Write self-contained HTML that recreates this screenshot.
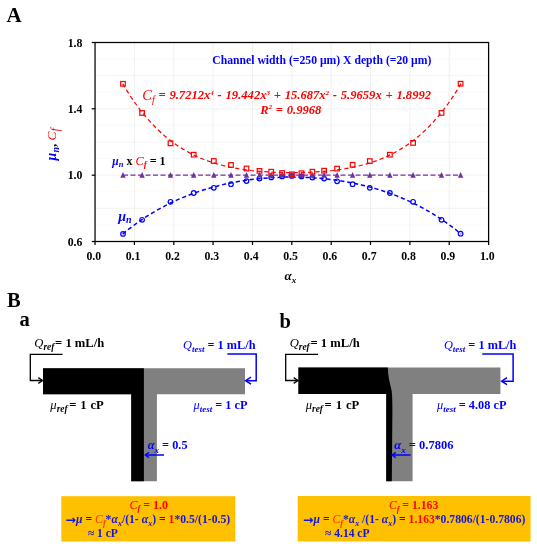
<!DOCTYPE html>
<html><head><meta charset="utf-8"><title>Figure</title>
<style>
html,body{margin:0;padding:0;background:#fff;}
svg{display:block;}
text{font-family:"Liberation Serif","Times New Roman",serif;}
.b{font-weight:bold;}
.i{font-style:italic;}
.bi{font-weight:bold;font-style:italic;}
</style></head><body>
<svg width="537" height="550" viewBox="0 0 537 550">
<rect width="537" height="550" fill="#fff"/>
<g stroke="#f7f7f7" stroke-width="0.8">
<line x1="95.05" x2="488.6" y1="224.9" y2="224.9"/>
<line x1="95.05" x2="488.6" y1="191.8" y2="191.8"/>
<line x1="95.05" x2="488.6" y1="158.6" y2="158.6"/>
<line x1="95.05" x2="488.6" y1="125.4" y2="125.4"/>
<line x1="95.05" x2="488.6" y1="92.2" y2="92.2"/>
<line x1="95.05" x2="488.6" y1="59.1" y2="59.1"/>
</g><g stroke="#ececec" stroke-width="0.8">
<line x1="95.05" x2="488.6" y1="208.3" y2="208.3" stroke="#f0f0f0"/>
<line x1="95.05" x2="488.6" y1="175.2" y2="175.2" stroke="#f0f0f0"/>
<line x1="95.05" x2="488.6" y1="142.0" y2="142.0" stroke="#f0f0f0"/>
<line x1="95.05" x2="488.6" y1="108.8" y2="108.8" stroke="#f0f0f0"/>
<line x1="95.05" x2="488.6" y1="75.7" y2="75.7" stroke="#f0f0f0"/>
<line y1="42.5" y2="241.5" x1="134.4" x2="134.4"/>
<line y1="42.5" y2="241.5" x1="173.8" x2="173.8"/>
<line y1="42.5" y2="241.5" x1="213.1" x2="213.1"/>
<line y1="42.5" y2="241.5" x1="252.5" x2="252.5"/>
<line y1="42.5" y2="241.5" x1="291.8" x2="291.8"/>
<line y1="42.5" y2="241.5" x1="331.2" x2="331.2"/>
<line y1="42.5" y2="241.5" x1="370.5" x2="370.5"/>
<line y1="42.5" y2="241.5" x1="409.9" x2="409.9"/>
<line y1="42.5" y2="241.5" x1="449.2" x2="449.2"/>
</g>
<path d="M122.6,234.1 L126.9,230.6 L131.2,227.3 L135.5,224.1 L139.7,221.1 L144.0,218.2 L148.3,215.4 L152.6,212.8 L156.9,210.3 L161.2,207.9 L165.4,205.6 L169.7,203.4 L174.0,201.4 L178.3,199.4 L182.6,197.6 L186.9,195.9 L191.1,194.2 L195.4,192.7 L199.7,191.2 L204.0,189.8 L208.3,188.5 L212.6,187.3 L216.9,186.2 L221.1,185.1 L225.4,184.1 L229.7,183.2 L234.0,182.3 L238.3,181.6 L242.6,180.9 L246.8,180.2 L251.1,179.6 L255.4,179.1 L259.7,178.7 L264.0,178.3 L268.3,177.9 L272.5,177.6 L276.8,177.4 L281.1,177.3 L285.4,177.1 L289.7,177.1 L294.0,177.1 L298.3,177.2 L302.5,177.3 L306.8,177.4 L311.1,177.7 L315.4,178.0 L319.7,178.3 L324.0,178.7 L328.2,179.2 L332.5,179.7 L336.8,180.3 L341.1,180.9 L345.4,181.6 L349.7,182.4 L353.9,183.3 L358.2,184.2 L362.5,185.2 L366.8,186.2 L371.1,187.4 L375.4,188.6 L379.7,189.9 L383.9,191.3 L388.2,192.7 L392.5,194.3 L396.8,195.9 L401.1,197.7 L405.4,199.5 L409.6,201.4 L413.9,203.5 L418.2,205.6 L422.5,207.9 L426.8,210.3 L431.1,212.8 L435.3,215.4 L439.6,218.2 L443.9,221.0 L448.2,224.1 L452.5,227.2 L456.8,230.5 L461.1,234.0" fill="none" stroke="#0000ff" stroke-width="1.5" stroke-dasharray="4.2 2.8"/>
<g fill="none" stroke="#0000ff" stroke-width="1.2">
<circle cx="123.0" cy="233.9" r="2.3"/>
<circle cx="142.1" cy="219.8" r="2.3"/>
<circle cx="170.5" cy="201.8" r="2.3"/>
<circle cx="193.7" cy="193.0" r="2.3"/>
<circle cx="213.8" cy="187.8" r="2.3"/>
<circle cx="231.0" cy="184.2" r="2.3"/>
<circle cx="246.5" cy="181.1" r="2.3"/>
<circle cx="259.5" cy="178.5" r="2.3"/>
<circle cx="271.2" cy="177.4" r="2.3"/>
<circle cx="282.1" cy="176.4" r="2.3"/>
<circle cx="291.8" cy="175.9" r="2.3"/>
<circle cx="301.5" cy="176.4" r="2.3"/>
<circle cx="312.4" cy="177.6" r="2.3"/>
<circle cx="324.1" cy="178.6" r="2.3"/>
<circle cx="337.1" cy="181.3" r="2.3"/>
<circle cx="352.6" cy="184.2" r="2.3"/>
<circle cx="369.8" cy="187.8" r="2.3"/>
<circle cx="389.9" cy="193.0" r="2.3"/>
<circle cx="413.1" cy="201.8" r="2.3"/>
<circle cx="441.5" cy="219.8" r="2.3"/>
<circle cx="460.6" cy="233.7" r="2.3"/>
</g>
<line x1="123.0" x2="460.6" y1="175.2" y2="175.2" stroke="#7030a0" stroke-width="1.3" stroke-dasharray="5 2.5"/>
<g fill="#7030a0">
<path d="M120.3,177.8 L125.7,177.8 L123.0,172.0Z"/>
<path d="M139.4,177.8 L144.8,177.8 L142.1,172.0Z"/>
<path d="M167.8,177.8 L173.2,177.8 L170.5,172.0Z"/>
<path d="M191.0,177.8 L196.4,177.8 L193.7,172.0Z"/>
<path d="M211.1,177.8 L216.5,177.8 L213.8,172.0Z"/>
<path d="M228.3,177.8 L233.7,177.8 L231.0,172.0Z"/>
<path d="M243.8,177.8 L249.2,177.8 L246.5,172.0Z"/>
<path d="M256.8,177.8 L262.2,177.8 L259.5,172.0Z"/>
<path d="M268.5,177.8 L273.9,177.8 L271.2,172.0Z"/>
<path d="M279.4,177.8 L284.8,177.8 L282.1,172.0Z"/>
<path d="M289.1,177.8 L294.5,177.8 L291.8,172.0Z"/>
<path d="M298.8,177.8 L304.2,177.8 L301.5,172.0Z"/>
<path d="M309.7,177.8 L315.1,177.8 L312.4,172.0Z"/>
<path d="M321.4,177.8 L326.8,177.8 L324.1,172.0Z"/>
<path d="M334.4,177.8 L339.8,177.8 L337.1,172.0Z"/>
<path d="M349.9,177.8 L355.3,177.8 L352.6,172.0Z"/>
<path d="M367.1,177.8 L372.5,177.8 L369.8,172.0Z"/>
<path d="M387.2,177.8 L392.6,177.8 L389.9,172.0Z"/>
<path d="M410.4,177.8 L415.8,177.8 L413.1,172.0Z"/>
<path d="M438.8,177.8 L444.2,177.8 L441.5,172.0Z"/>
<path d="M457.9,177.8 L463.3,177.8 L460.6,172.0Z"/>
</g>
<path d="M122.6,83.6 L126.9,90.7 L131.2,97.3 L135.5,103.5 L139.7,109.3 L144.0,114.7 L148.3,119.7 L152.6,124.4 L156.9,128.8 L161.2,132.8 L165.4,136.6 L169.7,140.0 L174.0,143.3 L178.3,146.2 L182.6,148.9 L186.9,151.4 L191.1,153.7 L195.4,155.8 L199.7,157.8 L204.0,159.5 L208.3,161.1 L212.6,162.5 L216.9,163.9 L221.1,165.0 L225.4,166.1 L229.7,167.1 L234.0,167.9 L238.3,168.7 L242.6,169.4 L246.8,170.0 L251.1,170.5 L255.4,170.9 L259.7,171.3 L264.0,171.7 L268.3,171.9 L272.5,172.2 L276.8,172.4 L281.1,172.5 L285.4,172.6 L289.7,172.6 L294.0,172.6 L298.3,172.6 L302.5,172.5 L306.8,172.4 L311.1,172.2 L315.4,171.9 L319.7,171.7 L324.0,171.3 L328.2,170.9 L332.5,170.5 L336.8,170.0 L341.1,169.4 L345.4,168.7 L349.7,167.9 L353.9,167.0 L358.2,166.1 L362.5,165.0 L366.8,163.8 L371.1,162.5 L375.4,161.1 L379.7,159.5 L383.9,157.7 L388.2,155.8 L392.5,153.7 L396.8,151.4 L401.1,148.9 L405.4,146.2 L409.6,143.2 L413.9,140.0 L418.2,136.6 L422.5,132.8 L426.8,128.8 L431.1,124.4 L435.3,119.7 L439.6,114.7 L443.9,109.3 L448.2,103.5 L452.5,97.3 L456.8,90.7 L461.1,83.6" fill="none" stroke="#ff0000" stroke-width="1.25" stroke-dasharray="4.3 3"/>
<g fill="none" stroke="#ff0000" stroke-width="1.2">
<rect x="120.7" y="81.5" width="4.6" height="4.6"/>
<rect x="139.8" y="110.7" width="4.6" height="4.6"/>
<rect x="168.2" y="141.0" width="4.6" height="4.6"/>
<rect x="191.4" y="152.4" width="4.6" height="4.6"/>
<rect x="211.5" y="158.7" width="4.6" height="4.6"/>
<rect x="228.7" y="162.7" width="4.6" height="4.6"/>
<rect x="244.2" y="166.2" width="4.6" height="4.6"/>
<rect x="257.2" y="168.6" width="4.6" height="4.6"/>
<rect x="268.9" y="169.4" width="4.6" height="4.6"/>
<rect x="279.8" y="170.7" width="4.6" height="4.6"/>
<rect x="289.5" y="172.0" width="4.6" height="4.6"/>
<rect x="299.2" y="170.9" width="4.6" height="4.6"/>
<rect x="310.1" y="169.4" width="4.6" height="4.6"/>
<rect x="321.8" y="168.4" width="4.6" height="4.6"/>
<rect x="334.8" y="166.3" width="4.6" height="4.6"/>
<rect x="350.3" y="162.5" width="4.6" height="4.6"/>
<rect x="367.5" y="158.8" width="4.6" height="4.6"/>
<rect x="387.6" y="152.4" width="4.6" height="4.6"/>
<rect x="410.8" y="140.6" width="4.6" height="4.6"/>
<rect x="439.2" y="110.6" width="4.6" height="4.6"/>
<rect x="458.3" y="81.4" width="4.6" height="4.6"/>
</g>
<g stroke="#000" stroke-width="1.25" fill="none">
<rect x="95.05" y="42.5" width="393.55" height="199.0"/>
<line x1="95.0" x2="95.0" y1="241.5" y2="245.0"/>
<line x1="134.4" x2="134.4" y1="241.5" y2="245.0"/>
<line x1="173.8" x2="173.8" y1="241.5" y2="245.0"/>
<line x1="213.1" x2="213.1" y1="241.5" y2="245.0"/>
<line x1="252.5" x2="252.5" y1="241.5" y2="245.0"/>
<line x1="291.8" x2="291.8" y1="241.5" y2="245.0"/>
<line x1="331.2" x2="331.2" y1="241.5" y2="245.0"/>
<line x1="370.5" x2="370.5" y1="241.5" y2="245.0"/>
<line x1="409.9" x2="409.9" y1="241.5" y2="245.0"/>
<line x1="449.2" x2="449.2" y1="241.5" y2="245.0"/>
<line x1="488.6" x2="488.6" y1="241.5" y2="245.0"/>
<line x1="91.75" x2="95.05" y1="241.5" y2="241.5"/>
<line x1="91.75" x2="95.05" y1="175.2" y2="175.2"/>
<line x1="91.75" x2="95.05" y1="108.8" y2="108.8"/>
<line x1="91.75" x2="95.05" y1="42.5" y2="42.5"/>
</g>
<g class="b" font-size="11.8" fill="#000">
<text x="93.8" y="259.7" text-anchor="middle">0.0</text>
<text x="133.1" y="259.7" text-anchor="middle">0.1</text>
<text x="172.5" y="259.7" text-anchor="middle">0.2</text>
<text x="211.8" y="259.7" text-anchor="middle">0.3</text>
<text x="251.2" y="259.7" text-anchor="middle">0.4</text>
<text x="290.5" y="259.7" text-anchor="middle">0.5</text>
<text x="329.9" y="259.7" text-anchor="middle">0.6</text>
<text x="369.2" y="259.7" text-anchor="middle">0.7</text>
<text x="408.6" y="259.7" text-anchor="middle">0.8</text>
<text x="447.9" y="259.7" text-anchor="middle">0.9</text>
<text x="487.3" y="259.7" text-anchor="middle">1.0</text>
<text x="82.4" y="245.6" text-anchor="end">0.6</text>
<text x="82.4" y="179.3" text-anchor="end">1.0</text>
<text x="82.4" y="112.9" text-anchor="end">1.4</text>
<text x="82.4" y="46.6" text-anchor="end">1.8</text>
</g>
<text class="bi" font-size="13" x="284.5" y="280.3" fill="#000">α<tspan font-size="9" dy="2.8">x</tspan></text>
<text transform="translate(56,160.4) rotate(-90)" font-size="14"><tspan class="bi" fill="#0000ff">μ</tspan><tspan class="bi" fill="#0000ff" font-size="10" dy="3">n</tspan><tspan class="b" fill="#000" dy="-3" font-size="13">, </tspan><tspan class="i" fill="#ff0000" font-size="13.5">C</tspan><tspan class="i" fill="#ff0000" font-size="12" dy="3">f</tspan></text>
<text class="b" font-size="12" x="212.3" y="64" fill="#0000ff" textLength="219" lengthAdjust="spacingAndGlyphs">Channel width (=250 μm) X depth (=20 μm)</text>
<text font-size="12.6" word-spacing="0.6" x="142.3" y="99.2" fill="#ff0000" class="bi"><tspan class="i" font-weight="normal" font-size="14.5" dy="0.8">C</tspan><tspan class="i" font-weight="normal" font-size="10" dy="3">f</tspan><tspan dy="-3.8"> = 9.7212x</tspan><tspan font-size="7" dy="-4.2">4</tspan><tspan dy="4.2"> - 19.442x</tspan><tspan font-size="7" dy="-4.2">3</tspan><tspan dy="4.2"> + 15.687x</tspan><tspan font-size="7" dy="-4.2">2</tspan><tspan dy="4.2"> - 5.9659x + 1.8992</tspan></text>
<text font-size="12.6" word-spacing="0.6" x="260.2" y="113.6" fill="#ff0000" class="bi">R<tspan font-size="7" dy="-4.2">2</tspan><tspan dy="4.2"> = 0.9968</tspan></text>
<text font-size="12" x="112.3" y="164.6" class="b"><tspan class="bi" fill="#0000ff" font-size="11.6">μ</tspan><tspan class="bi" fill="#0000ff" font-size="8.5" dy="2.5">n</tspan><tspan dy="-2.5" fill="#000"> x </tspan><tspan class="i" fill="#ff0000" font-weight="normal" font-size="12.4">C</tspan><tspan class="bi" fill="#ff0000" font-size="9" dy="2.8">f</tspan><tspan dy="-2.8" fill="#000"> = 1</tspan></text>
<text font-size="14" x="118.2" y="220.6" class="bi" fill="#0000ff">μ<tspan font-size="10" dy="2.2">n</tspan></text>
<text class="b" font-size="21" x="6.5" y="22.4" fill="#000">A</text>
<text class="b" font-size="20.5" x="7" y="307.2" fill="#000">B</text>
<text class="b" font-size="20.5" x="19.6" y="326.4" fill="#000">a</text>
<text class="b" font-size="20.5" x="279.5" y="328.2" fill="#000">b</text>
<g transform="translate(0,0)">
<path d="M43,368.3 H245 V394.2 H156.9 V481.3 H131.2 V394.2 H43 Z" fill="#808080"/>
<path d="M43,368.3 H143.9 V481.3 H131.2 V394.2 H43 Z" fill="#000"/>
<path d="M62.6,354.3 H30.3 V380.5 H42" fill="none" stroke="#000" stroke-width="1.3"/>
<path d="M38.3,377.6 L42.6,380.5 L38.3,383.4" fill="none" stroke="#000" stroke-width="1.3"/>
<text font-size="12.6" x="34.3" y="347" fill="#000"><tspan class="i">Q</tspan><tspan class="bi" font-size="9.4" dy="3">ref</tspan><tspan dy="-3" font-size="3"> </tspan><tspan class="b">= 1 mL/h</tspan></text>
<text font-size="12.6" word-spacing="0.8" x="50.3" y="409" fill="#000"><tspan class="i">μ</tspan><tspan class="bi" font-size="9.4" dy="3">ref</tspan><tspan dy="-3" font-size="3"> </tspan><tspan class="b">= 1 cP</tspan></text>
</g>
<g transform="translate(255.4,0)">
<path d="M43,367.6 H245 V394.0 H157.2 V481.3 H130.8 V394.0 H43 Z" fill="#808080"/>
<path d="M43,367.6 H132.4 C132.6,376 134.3,383 135.6,388 C136.7,392 137,397 137,410 L136.4,481.3 H130.8 V394.0 H43 Z" fill="#000"/>
<path d="M62.6,354.3 H30.3 V380.5 H42" fill="none" stroke="#000" stroke-width="1.3"/>
<path d="M38.3,377.6 L42.6,380.5 L38.3,383.4" fill="none" stroke="#000" stroke-width="1.3"/>
<text font-size="12.6" x="34.3" y="347" fill="#000"><tspan class="i">Q</tspan><tspan class="bi" font-size="9.4" dy="3">ref</tspan><tspan dy="-3" font-size="3"> </tspan><tspan class="b">= 1 mL/h</tspan></text>
<text font-size="12.6" word-spacing="0.8" x="50.3" y="409" fill="#000"><tspan class="i">μ</tspan><tspan class="bi" font-size="9.4" dy="3">ref</tspan><tspan dy="-3" font-size="3"> </tspan><tspan class="b">= 1 cP</tspan></text>
</g>
<g fill="none" stroke="#0000ff" stroke-width="1.5"><path d="M227.4,353.9 H256.2 V380.7 H246"/><path d="M251,377.2 L245.6,380.7 L251,384.2"/><path d="M164,455 H145.8"/><path d="M149,452.4 L145.3,455 L149,457.6"/></g>
<text font-size="12.3" x="183" y="349.2" fill="#0000ff"><tspan class="i">Q</tspan><tspan class="bi" font-size="9" dy="3.1">test</tspan><tspan class="b" dy="-3.1"> = 1 mL/h</tspan></text>
<text font-size="12.3" x="193.5" y="408.6" fill="#0000ff"><tspan class="i">μ</tspan><tspan class="bi" font-size="9" dy="3.1">test</tspan><tspan class="b" dy="-3.1"> = 1 cP</tspan></text>
<text font-size="12.3" x="147.7" y="448.8" fill="#0000ff"><tspan class="bi">α</tspan><tspan class="bi" font-size="9" dy="3.8">x</tspan><tspan class="b" dy="-3.8"> = 0.5</tspan></text>
<g fill="none" stroke="#0000ff" stroke-width="1.5"><path d="M482.2,353.9 H513.1 V381.2 H502"/><path d="M507,377.7 L501.6,381.2 L507,384.7"/><path d="M410.6,455 H392.6"/><path d="M395.8,452.4 L392.1,455 L395.8,457.6"/></g>
<text font-size="12.3" x="443.9" y="348.6" fill="#0000ff"><tspan class="i">Q</tspan><tspan class="bi" font-size="9" dy="3.1">test</tspan><tspan class="b" dy="-3.1"> = 1 mL/h</tspan></text>
<text font-size="12.3" x="437" y="409" fill="#0000ff"><tspan class="i">μ</tspan><tspan class="bi" font-size="9" dy="3.1">test</tspan><tspan class="b" dy="-3.1"> = 4.08 cP</tspan></text>
<text font-size="12.5" x="394.3" y="449.1" fill="#0000ff"><tspan class="bi">α</tspan><tspan class="bi" font-size="9" dy="3.8">x</tspan><tspan class="b" dy="-3.8"> = 0.7806</tspan></text>
<rect x="61.3" y="496.2" width="174" height="45.3" fill="#ffc000"/>
<text font-size="12" x="148.8" y="508.8" text-anchor="middle" fill="#ff0000"><tspan class="i">C</tspan><tspan class="bi" font-size="8" dy="2.6">f</tspan><tspan class="b" dy="-2.6"> = 1.0</tspan></text>
<text font-size="11.7" x="65.6" y="523.2" fill="#1515d8" class="b"><tspan font-family="DejaVu Sans" font-size="12.5" dy="0.3">→</tspan><tspan class="bi" dy="-0.3">μ</tspan> = <tspan class="i" font-weight="normal" fill="#ff3000">C</tspan><tspan class="bi" fill="#ff3000" font-size="8" dy="2.6">f</tspan><tspan dy="-2.6">*</tspan><tspan class="bi">α</tspan><tspan class="bi" font-size="8" dy="2.6">x</tspan><tspan dy="-2.6">/(1- </tspan><tspan class="bi">α</tspan><tspan class="bi" font-size="8" dy="2.6">x</tspan><tspan dy="-2.6">) = </tspan><tspan fill="#ff0000">1</tspan>*0.5/(1-0.5)</text>
<text font-size="11.5" x="87.9" y="536.6" fill="#1515d8" class="b">≈ 1 cP</text>
<rect x="297.7" y="496" width="232.9" height="45.5" fill="#ffc000"/>
<text font-size="11.7" x="413.6" y="509" text-anchor="middle" fill="#ff0000"><tspan class="i">C</tspan><tspan class="bi" font-size="8" dy="2.6">f</tspan><tspan class="b" dy="-2.6"> = 1.163</tspan></text>
<text font-size="11.65" x="303" y="523.4" fill="#1515d8" class="b"><tspan font-family="DejaVu Sans" font-size="12.5" dy="0.3">→</tspan><tspan class="bi" dy="-0.3">μ</tspan> = <tspan class="i" font-weight="normal" fill="#ff3000">C</tspan><tspan class="bi" fill="#ff3000" font-size="8" dy="2.6">f</tspan><tspan dy="-2.6">*</tspan><tspan class="bi">α</tspan><tspan class="bi" font-size="8" dy="2.6">x</tspan><tspan dy="-2.6"> /(1- </tspan><tspan class="bi">α</tspan><tspan class="bi" font-size="8" dy="2.6">x</tspan><tspan dy="-2.6">) = </tspan><tspan fill="#ff0000">1.163</tspan>*0.7806/(1-0.7806)</text>
<text font-size="11.5" x="325.1" y="536.8" fill="#1515d8" class="b">≈ 4.14 cP</text>
</svg></body></html>
